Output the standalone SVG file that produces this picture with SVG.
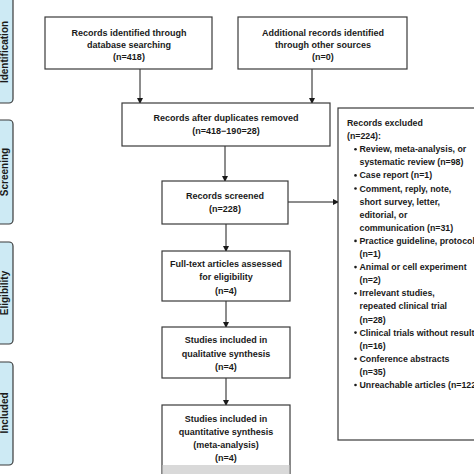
<svg xmlns="http://www.w3.org/2000/svg" width="474" height="474" viewBox="0 0 474 474">
<style>
.box{fill:#fff;stroke:#3a3a3a;stroke-width:1.2}
.side{fill:#cdeaf4;stroke:#3a3a3a;stroke-width:1.2}
.t{font-family:"Liberation Sans",Arial,sans-serif;font-weight:bold;font-size:9px;fill:#1a1a1a;text-anchor:middle}
.e{font-family:"Liberation Sans",Arial,sans-serif;font-weight:bold;font-size:8.8px;fill:#1a1a1a}
.s{font-family:"Liberation Sans",Arial,sans-serif;font-weight:bold;font-size:10px;fill:#1a1a1a;text-anchor:middle}
.c{stroke:#1a1a1a;stroke-width:1;fill:none;marker-end:url(#ah)}
</style>
<defs>
<marker id="ah" markerWidth="6" markerHeight="6" refX="5" refY="3" orient="auto" markerUnits="userSpaceOnUse">
<path d="M0,0 L6,3 L0,6 Z" fill="#1a1a1a"/>
</marker>
</defs>
<rect width="474" height="474" fill="#fff"/>

<g id="side-identification">
<rect class="side" x="-30" y="-4" width="43" height="107" rx="4"/>
<text class="s" transform="translate(7.5,52) rotate(-90)">Identification</text>
</g>
<g id="side-screening">
<rect class="side" x="-30" y="120" width="43" height="104" rx="4"/>
<text class="s" transform="translate(7.5,172) rotate(-90)">Screening</text>
</g>
<g id="side-eligibility">
<rect class="side" x="-30" y="242" width="43" height="102" rx="4"/>
<text class="s" transform="translate(7.5,293) rotate(-90)">Eligibility</text>
</g>
<g id="side-included">
<rect class="side" x="-30" y="362" width="43" height="103" rx="4"/>
<text class="s" transform="translate(7.5,413) rotate(-90)">Included</text>
</g>

<g id="connectors">
<line class="c" x1="140" y1="69" x2="140" y2="103"/>
<line class="c" x1="312" y1="69" x2="312" y2="103"/>
<line class="c" x1="225" y1="146" x2="225" y2="181"/>
<line class="c" x1="288" y1="202" x2="338" y2="202"/>
<line class="c" x1="226" y1="224" x2="226" y2="251"/>
<line class="c" x1="226" y1="301" x2="226" y2="327"/>
<line class="c" x1="226" y1="378" x2="226" y2="405"/>
</g>

<g id="n1">
<rect class="box" x="45" y="17" width="167" height="52"/>
<text class="t" x="129" y="35.5">Records identified through</text>
<text class="t" x="129" y="47.5">database searching</text>
<text class="t" x="129" y="59.5">(n=418)</text>
</g>
<g id="n2">
<rect class="box" x="238" y="17" width="169" height="52"/>
<text class="t" x="323" y="35.5">Additional records identified</text>
<text class="t" x="323" y="47.5">through other sources</text>
<text class="t" x="323" y="59.5">(n=0)</text>
</g>
<g id="n3">
<rect class="box" x="122" y="103" width="208" height="43"/>
<text class="t" x="226" y="120.5">Records after duplicates removed</text>
<text class="t" x="226" y="134">(n=418−190=28)</text>
</g>
<g id="n4">
<rect class="box" x="162" y="181" width="126" height="43"/>
<text class="t" x="225" y="198.5">Records screened</text>
<text class="t" x="225" y="211.5">(n=228)</text>
</g>
<g id="n5">
<rect class="box" x="162" y="251" width="128" height="50"/>
<text class="t" x="226" y="266.5">Full-text articles assessed</text>
<text class="t" x="226" y="280">for eligibility</text>
<text class="t" x="226" y="293.5">(n=4)</text>
</g>
<g id="n6">
<rect class="box" x="162" y="327" width="128" height="51"/>
<text class="t" x="226" y="343">Studies included in</text>
<text class="t" x="226" y="356.5">qualitative synthesis</text>
<text class="t" x="226" y="370">(n=4)</text>
</g>
<g id="n7">
<rect class="box" x="162" y="405" width="128" height="75"/>
<rect x="162.6" y="465" width="126.8" height="10" fill="#d9d9d9"/>
<text class="t" x="226" y="421.5">Studies included in</text>
<text class="t" x="226" y="434.5">quantitative synthesis</text>
<text class="t" x="226" y="447.5">(meta-analysis)</text>
<text class="t" x="226" y="460.5">(n=4)</text>
</g>
<g id="n8">
<rect class="box" x="338" y="108" width="150" height="332"/>
<text class="e" x="347" y="126">Records excluded</text>
<text class="e" x="347" y="139.1">(n=224):</text>
<g fill="#1a1a1a">
<circle cx="355.5" cy="149.2" r="1.3"/>
<circle cx="355.5" cy="175.4" r="1.3"/>
<circle cx="355.5" cy="188.5" r="1.3"/>
<circle cx="355.5" cy="240.9" r="1.3"/>
<circle cx="355.5" cy="267.1" r="1.3"/>
<circle cx="355.5" cy="293.3" r="1.3"/>
<circle cx="355.5" cy="332.6" r="1.3"/>
<circle cx="355.5" cy="358.8" r="1.3"/>
<circle cx="355.5" cy="385" r="1.3"/>
</g>
<text class="e" x="359.5" y="152.2">Review, meta-analysis, or</text>
<text class="e" x="359.5" y="165.3">systematic review (n=98)</text>
<text class="e" x="359.5" y="178.4">Case report (n=1)</text>
<text class="e" x="359.5" y="191.5">Comment, reply, note,</text>
<text class="e" x="359.5" y="204.6">short survey, letter,</text>
<text class="e" x="359.5" y="217.7">editorial, or</text>
<text class="e" x="359.5" y="230.8">communication (n=31)</text>
<text class="e" x="359.5" y="243.9">Practice guideline, protocol</text>
<text class="e" x="359.5" y="257">(n=1)</text>
<text class="e" x="359.5" y="270.1">Animal or cell experiment</text>
<text class="e" x="359.5" y="283.2">(n=2)</text>
<text class="e" x="359.5" y="296.3">Irrelevant studies,</text>
<text class="e" x="359.5" y="309.4">repeated clinical trial</text>
<text class="e" x="359.5" y="322.5">(n=28)</text>
<text class="e" x="359.5" y="335.6">Clinical trials without results</text>
<text class="e" x="359.5" y="348.7">(n=16)</text>
<text class="e" x="359.5" y="361.8">Conference abstracts</text>
<text class="e" x="359.5" y="374.9">(n=35)</text>
<text class="e" x="359.5" y="388">Unreachable articles (n=122)</text>
</g>
</svg>
